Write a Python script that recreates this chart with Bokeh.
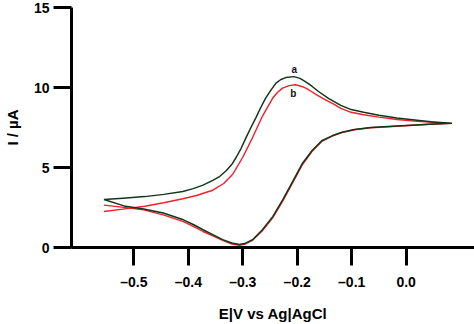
from bokeh.plotting import figure
from bokeh.models import FixedTicker, CustomJSTickFormatter, Range1d
from bokeh.core.properties import value
from bokeh.embed import file_html
from bokeh.resources import INLINE

# Curve a (dark green): forward (upper) and reverse (lower) branches
E_a_fwd = [-0.555, -0.52, -0.48, -0.445, -0.41, -0.391, -0.373, -0.355, -0.342, -0.33,
           -0.32, -0.312, -0.303, -0.294, -0.285, -0.276, -0.267, -0.258, -0.248, -0.239,
           -0.23, -0.221, -0.206, -0.195, -0.185, -0.173, -0.161, -0.142, -0.12, -0.101,
           -0.078, -0.05, -0.017, 0.02, 0.05, 0.083]
I_a_fwd = [3.0, 3.08, 3.18, 3.32, 3.5, 3.68, 3.9, 4.2, 4.45, 4.81,
           5.2, 5.64, 6.2, 6.87, 7.5, 8.1, 8.75, 9.34, 9.85, 10.27,
           10.5, 10.62, 10.68, 10.57, 10.37, 10.08, 9.75, 9.3, 8.88, 8.62,
           8.45, 8.27, 8.1, 7.95, 7.85, 7.76]
E_a_rev = [0.083, 0.043, -0.017, -0.065, -0.095, -0.118, -0.136, -0.155, -0.173, -0.191,
           -0.209, -0.227, -0.245, -0.264, -0.282, -0.295, -0.306, -0.32, -0.337, -0.355,
           -0.373, -0.39, -0.409, -0.446, -0.482, -0.518, -0.555]
I_a_rev = [7.76, 7.7, 7.6, 7.5, 7.38, 7.2, 6.98, 6.67, 6.05, 5.23,
           4.09, 2.96, 1.93, 1.11, 0.49, 0.27, 0.19, 0.28, 0.49, 0.8,
           1.11, 1.42, 1.73, 2.16, 2.41, 2.6, 3.0]

# Curve b (red)
E_b_fwd = [-0.555, -0.52, -0.48, -0.445, -0.41, -0.385, -0.355, -0.335, -0.318, -0.3,
           -0.282, -0.264, -0.245, -0.236, -0.227, -0.215, -0.203, -0.19, -0.179, -0.165,
           -0.149, -0.132, -0.12, -0.101, -0.078, -0.05, -0.017, 0.02, 0.05, 0.083]
I_b_fwd = [2.25, 2.4, 2.58, 2.8, 3.05, 3.25, 3.58, 4.0, 4.6, 5.64,
           6.87, 8.2, 9.34, 9.7, 9.96, 10.12, 10.17, 10.05, 9.86, 9.55,
           9.24, 8.94, 8.7, 8.45, 8.3, 8.15, 8.0, 7.88, 7.82, 7.76]
E_b_rev = [0.083, 0.043, -0.017, -0.065, -0.095, -0.118, -0.136, -0.155, -0.173, -0.191,
           -0.209, -0.227, -0.245, -0.264, -0.282, -0.295, -0.306, -0.32, -0.337, -0.355,
           -0.373, -0.39, -0.409, -0.446, -0.482, -0.518, -0.555]
I_b_rev = [7.76, 7.7, 7.58, 7.48, 7.36, 7.18, 6.96, 6.63, 6.0, 5.15,
           4.0, 2.88, 1.85, 1.05, 0.45, 0.22, 0.14, 0.22, 0.45, 0.72,
           1.0, 1.3, 1.62, 2.04, 2.35, 2.51, 2.65]

x_ticks = [-0.5, -0.4, -0.3, -0.2, -0.1, 0.0]
y_ticks = [0, 5, 10, 15]
labels_txt = ["a", "b"]
labels_E = [-0.2055, -0.207]
labels_I = [11.1, 9.63]

FONT = "Liberation Sans"

p = figure(width=474, height=324, output_backend="svg", toolbar_location=None,
           x_range=Range1d(-0.6145, 0.1255), y_range=Range1d(0, 15),
           min_border_left=67, min_border_right=0, min_border_top=7, min_border_bottom=76)
p.outline_line_color = None
p.xgrid.visible = False
p.ygrid.visible = False
p.background_fill_color = "white"
p.border_fill_color = "white"

p.line(E_b_fwd + E_b_rev, I_b_fwd + I_b_rev, line_color="#f0202a", line_width=1.4,
       line_join="round")
p.line(E_a_fwd + E_a_rev, I_a_fwd + I_a_rev, line_color="#12361a", line_width=1.5,
       line_join="round")

p.text(x=labels_E, y=labels_I, text=labels_txt, text_font=value(FONT), text_font_style="bold",
       text_font_size="10px", text_align="center", text_baseline="middle", text_color="#111111")

fmt = CustomJSTickFormatter(code="""
    const v = Math.abs(tick) < 1e-9 ? 0 : tick;
    return (v < 0 ? "\\u2013" : "") + Math.abs(v).toFixed(1);
""")

for ax in (p.xaxis[0], p.yaxis[0]):
    ax.axis_line_width = 3
    ax.axis_line_color = "black"
    ax.major_tick_line_width = 3
    ax.major_tick_line_color = "black"
    ax.major_tick_out = 18
    ax.major_tick_in = 0
    ax.minor_tick_line_color = None
    ax.major_label_text_font = FONT
    ax.major_label_text_font_style = "bold"
    ax.major_label_text_font_size = "14px"
    ax.major_label_text_color = "black"
    ax.axis_label_text_font = FONT
    ax.axis_label_text_font_style = "bold"
    ax.axis_label_text_font_size = "15px"
    ax.axis_label_text_color = "black"

p.xaxis.ticker = FixedTicker(ticks=x_ticks)
p.xaxis.formatter = fmt
p.xaxis.axis_label = "E|V vs Ag|AgCl"
p.xaxis.major_label_standoff = 8
p.xaxis.axis_label_standoff = 12

p.yaxis.ticker = FixedTicker(ticks=y_ticks)
p.yaxis.axis_label = "I / µA"
p.yaxis.major_label_standoff = 4
p.yaxis.axis_label_standoff = 10

open("out.html", "w").write(file_html(p, INLINE))
